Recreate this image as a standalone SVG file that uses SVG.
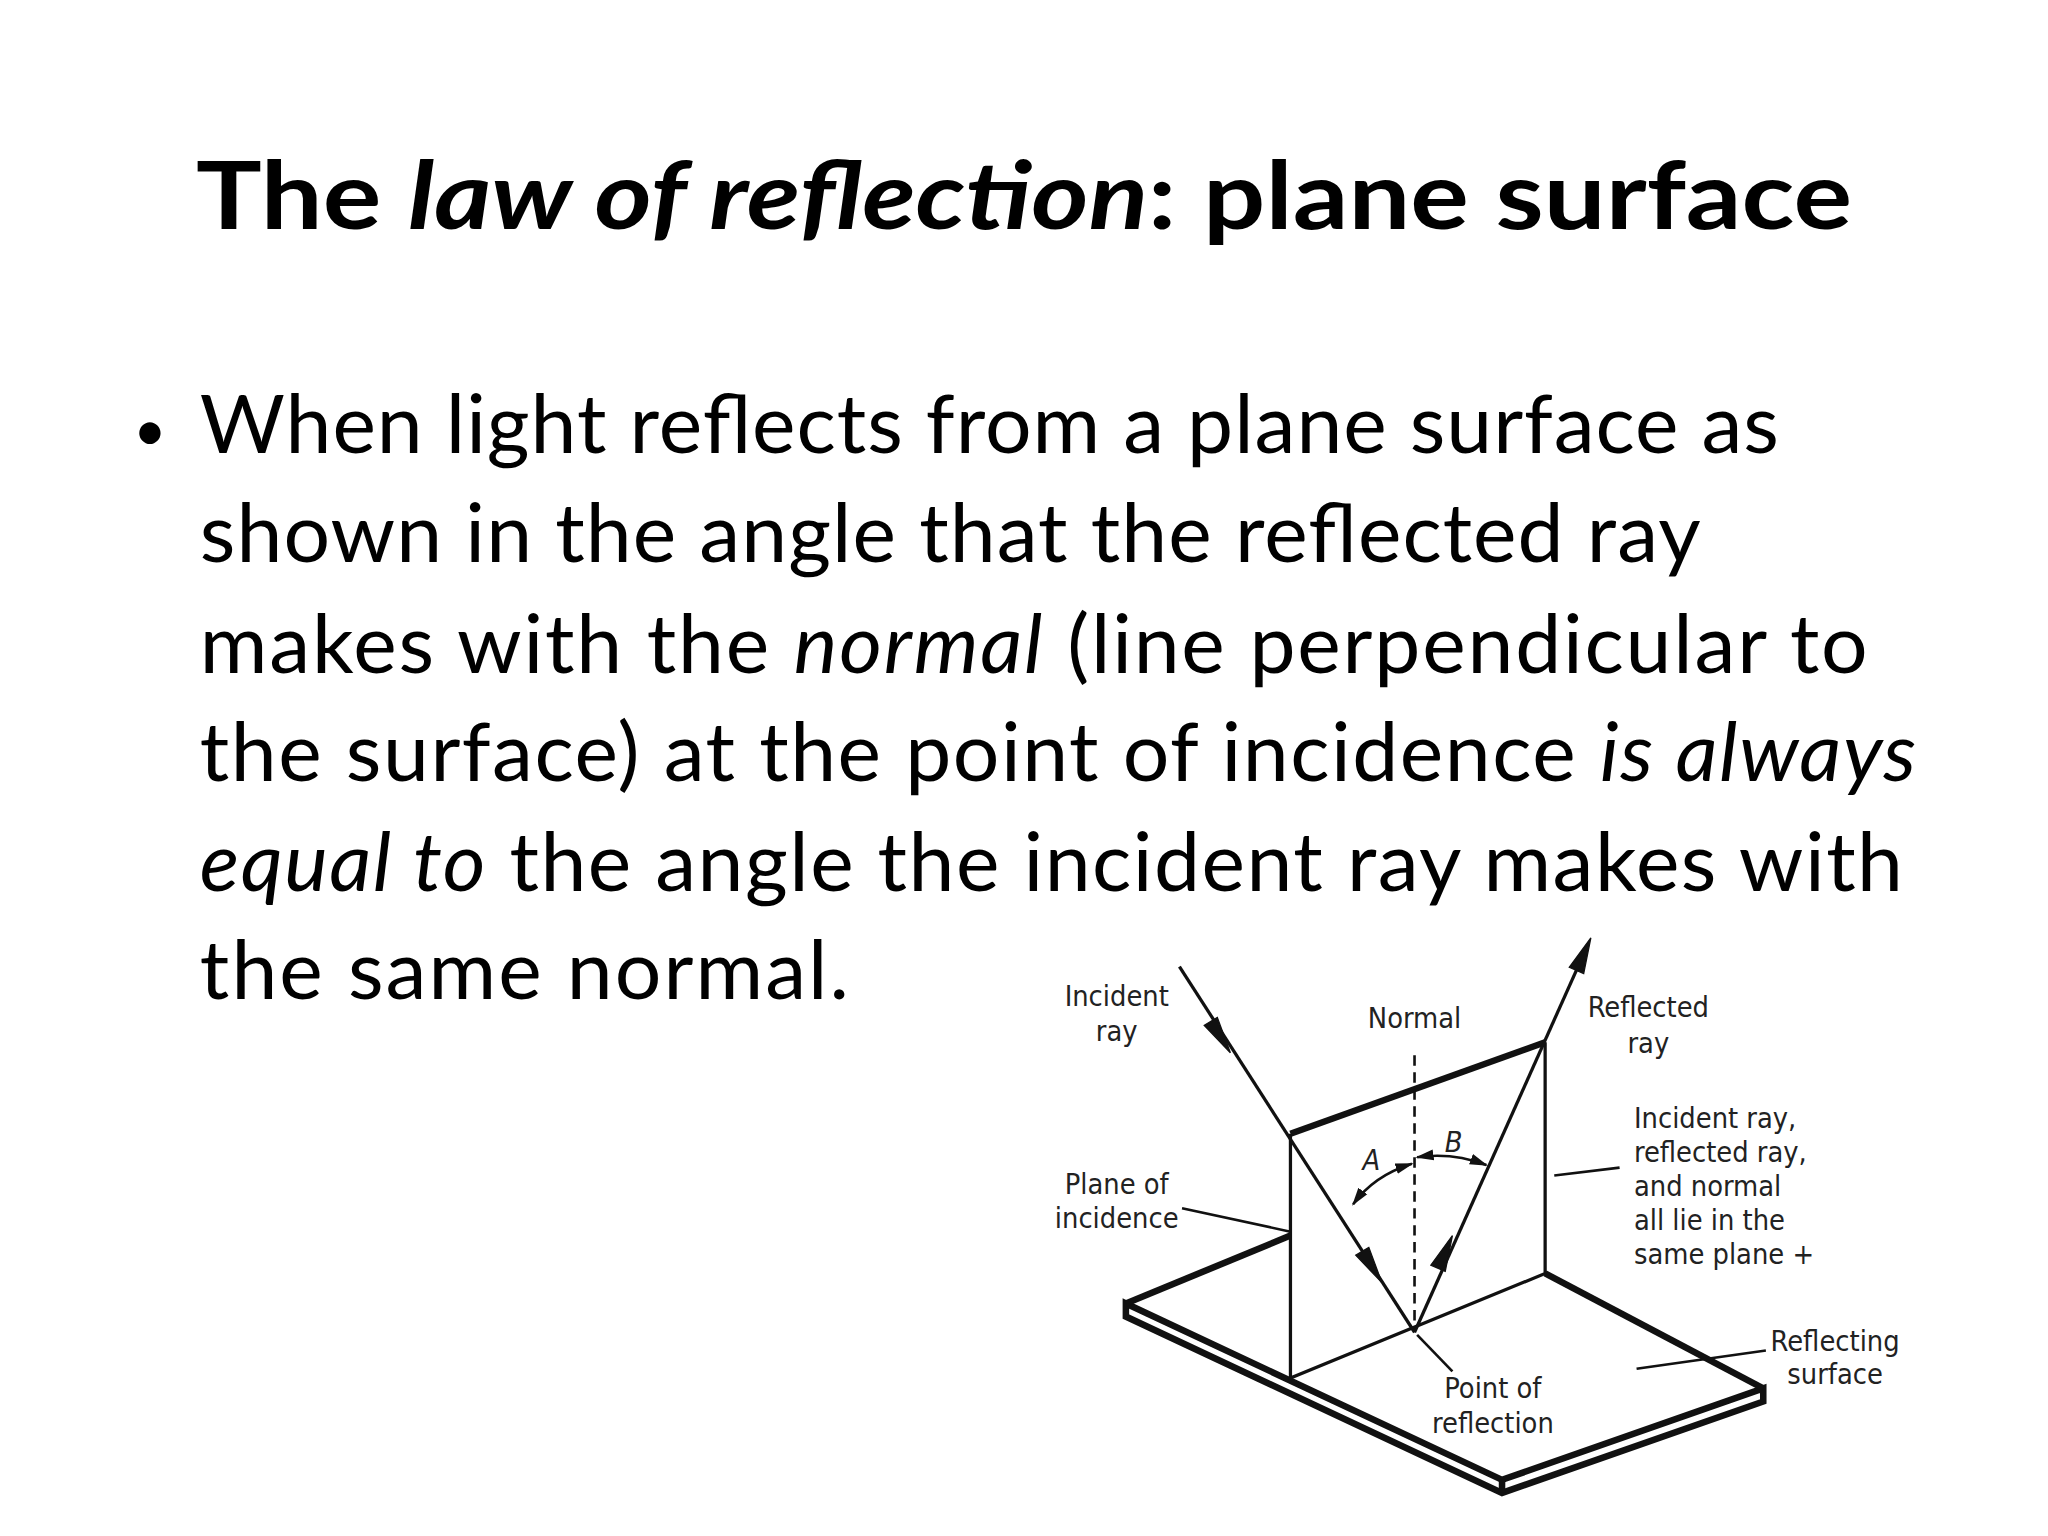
<svg xmlns="http://www.w3.org/2000/svg" width="2048" height="1536" viewBox="0 0 2048 1536">
<style>
.t{font-family:Lato,"Open Sans","Liberation Sans",sans-serif;fill:#000}
.b{font-size:63px}
.d{font-family:"DejaVu Sans Condensed","Liberation Sans Narrow","Liberation Sans",sans-serif;font-size:22px;fill:#222}
.k{stroke:#111;fill:none;stroke-width:2.5}
.th{stroke:#111;fill:none;stroke-width:5}
.ar{fill:#111;stroke:#111;stroke-width:1}
</style>
<defs>
<marker id="ah" viewBox="0 0 10 10" refX="9" refY="5" markerWidth="14" markerHeight="14" orient="auto-start-reverse" markerUnits="userSpaceOnUse"><path d="M0,2 L10,5 L0,8 z" fill="#111"/></marker>
</defs>
<rect width="2048" height="1536" fill="#fff"/>
<g transform="scale(1.30612)">
<g id="title"><text class="t" x="150" y="175" textLength="1268" lengthAdjust="spacingAndGlyphs" font-size="72" font-weight="bold">The <tspan font-style="italic">law of reflection</tspan>: plane surface</text></g>
<g id="body" class="t b">
<text x="102" y="345" font-size="44">•</text>
<text x="153" y="347" textLength="1209">When light reflects from a plane surface as</text>
<text x="153" y="430" textLength="1149">shown in the angle that the reflected ray</text>
<text x="153" y="515" textLength="1277">makes with the <tspan font-style="italic">normal</tspan> (line perpendicular to</text>
<text x="153" y="598" textLength="1314">the surface) at the point of incidence <tspan font-style="italic">is always</tspan></text>
<text x="153" y="682" textLength="1304"><tspan font-style="italic">equal to</tspan> the angle the incident ray makes with</text>
<text x="153" y="765" textLength="497">the same normal.</text>
</g>
<g id="plate">
<path class="th" d="M862,998 L1150,1133 L1350,1063 L1350,1073 L1150,1143 L862,1008 Z"/>
<path class="th" d="M1150,1133 L1150,1143"/>
<path class="th" d="M862,998 L988,946"/>
<path class="th" d="M1183,975 L1350,1063"/>
</g>
<g id="plane">
<path class="k" d="M988,868 L988,1055 L1183,975 L1183,798"/>
<path class="th" d="M988,868 L1183,798"/>
<path stroke="#111" stroke-width="2" stroke-dasharray="8,5" d="M1083,808 L1083,1020"/>
</g>
<g id="connectors">
<path class="k" d="M903,740 L1083,1020"/>
<polygon class="ar" points="942,806 932,779 922,785"/>
<polygon class="ar" points="1058,982 1048,955 1038,961"/>
<path class="k" d="M1083,1020 L1210,736"/>
<polygon class="ar" points="1218,718 1212.5,745.4 1201.5,740.6"/>
<polygon class="ar" points="1112,946 1106.5,973.4 1095.5,968.6"/>
<path stroke="#111" stroke-width="2" fill="none" marker-start="url(#ah)" marker-end="url(#ah)" d="M1036,922 Q1052,900 1081,891"/>
<path stroke="#111" stroke-width="2" fill="none" marker-start="url(#ah)" marker-end="url(#ah)" d="M1085,886 Q1112,882 1138,892"/>
<path stroke="#111" stroke-width="2" d="M905,925 L988,943"/>
<path stroke="#111" stroke-width="2" d="M1190,900 L1240,894"/>
<path stroke="#111" stroke-width="2" d="M1085,1022 L1112,1050"/>
<path stroke="#111" stroke-width="2" d="M1253,1048 L1352,1034"/>
</g>
<g id="labels" class="d">
<text x="855" y="770" text-anchor="middle">Incident</text>
<text x="855" y="797" text-anchor="middle">ray</text>
<text x="1083" y="787" text-anchor="middle">Normal</text>
<text x="1262" y="779" text-anchor="middle">Reflected</text>
<text x="1262" y="806" text-anchor="middle">ray</text>
<text x="855" y="914" text-anchor="middle">Plane of</text>
<text x="855" y="940" text-anchor="middle">incidence</text>
<text x="1251" y="864">Incident ray,</text>
<text x="1251" y="890">reflected ray,</text>
<text x="1251" y="916">and normal</text>
<text x="1251" y="942">all lie in the</text>
<text x="1251" y="968">same plane +</text>
<text x="1405" y="1034" text-anchor="middle">Reflecting</text>
<text x="1405" y="1060" text-anchor="middle">surface</text>
<text x="1143" y="1070" text-anchor="middle">Point of</text>
<text x="1143" y="1097" text-anchor="middle">reflection</text>
<text x="1050" y="896" text-anchor="middle" font-style="italic">A</text>
<text x="1113" y="882" text-anchor="middle" font-style="italic">B</text>
</g>
</g>
</svg>
